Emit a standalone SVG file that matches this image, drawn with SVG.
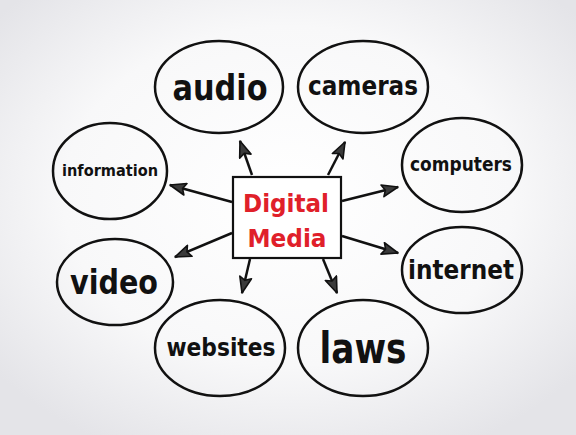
<svg xmlns="http://www.w3.org/2000/svg" width="576" height="435" viewBox="0 0 576 435">
<defs>
<radialGradient id="bg" cx="50%" cy="45%" r="65%">
<stop offset="0" stop-color="#ffffff"/>
<stop offset="0.6" stop-color="#f8f8f9"/>
<stop offset="1" stop-color="#e4e4e8"/>
</radialGradient>
<marker id="ah" viewBox="0 0 18 14" refX="17" refY="7" markerWidth="18" markerHeight="14" markerUnits="userSpaceOnUse" orient="auto">
<path d="M1,1 L17,7 L1,13 L4,7 Z" fill="#3a3a3a" stroke="#111" stroke-width="1.6" stroke-linejoin="round"/>
</marker>
</defs>
<style>
.node ellipse{fill:none;stroke:#111;stroke-width:2.5}
.lbl{font-family:"DejaVu Sans","Liberation Sans",sans-serif;font-weight:bold;fill:#111;text-anchor:middle}
.conn line{stroke:#111;stroke-width:2.5;marker-end:url(#ah)}
.center rect{fill:#fff;stroke:#111;stroke-width:2.2}
.center text{font-family:"DejaVu Sans","Liberation Sans",sans-serif;font-weight:bold;fill:#e0202a;text-anchor:middle;font-size:24px}
</style>
<rect width="576" height="435" fill="url(#bg)"/>
<g id="connectors" class="conn">
<line x1="252" y1="175" x2="240" y2="141"/>
<line x1="328" y1="175" x2="345" y2="142"/>
<line x1="232" y1="202" x2="170" y2="185"/>
<line x1="342" y1="201" x2="398" y2="187"/>
<line x1="232" y1="233" x2="175" y2="257"/>
<line x1="342" y1="236" x2="398" y2="253"/>
<line x1="250" y1="259" x2="242" y2="293"/>
<line x1="323" y1="259" x2="337" y2="293"/>
</g>
<g id="center" class="center">
<rect x="233" y="177" width="108" height="81"/>
<text x="286" y="212" textLength="86" lengthAdjust="spacingAndGlyphs">Digital</text>
<text x="287" y="247" textLength="79" lengthAdjust="spacingAndGlyphs">Media</text>
</g>
<g id="audio" class="node">
<ellipse cx="219" cy="87" rx="64" ry="46"/>
<text class="lbl" x="220" y="100" font-size="36" textLength="95" lengthAdjust="spacingAndGlyphs">audio</text>
</g>
<g id="cameras" class="node">
<ellipse cx="363" cy="87" rx="65" ry="46"/>
<text class="lbl" x="363" y="95" font-size="26" textLength="110" lengthAdjust="spacingAndGlyphs">cameras</text>
</g>
<g id="information" class="node">
<ellipse cx="110" cy="171" rx="57" ry="48"/>
<text class="lbl" x="110" y="176" font-size="15" textLength="96" lengthAdjust="spacingAndGlyphs">information</text>
</g>
<g id="computers" class="node">
<ellipse cx="462" cy="165" rx="60" ry="47"/>
<text class="lbl" x="461" y="171" font-size="20" textLength="102" lengthAdjust="spacingAndGlyphs">computers</text>
</g>
<g id="internet" class="node">
<ellipse cx="462" cy="270" rx="60" ry="43"/>
<text class="lbl" x="461" y="279" font-size="26" textLength="106" lengthAdjust="spacingAndGlyphs">internet</text>
</g>
<g id="video" class="node">
<ellipse cx="115" cy="282" rx="58" ry="43"/>
<text class="lbl" x="114" y="294" font-size="34" textLength="88" lengthAdjust="spacingAndGlyphs">video</text>
</g>
<g id="websites" class="node">
<ellipse cx="220" cy="348" rx="65" ry="48"/>
<text class="lbl" x="221" y="356" font-size="24" textLength="109" lengthAdjust="spacingAndGlyphs">websites</text>
</g>
<g id="laws" class="node">
<ellipse cx="363" cy="348" rx="65" ry="48"/>
<text class="lbl" x="363" y="363" font-size="42" textLength="87" lengthAdjust="spacingAndGlyphs">laws</text>
</g>
</svg>
